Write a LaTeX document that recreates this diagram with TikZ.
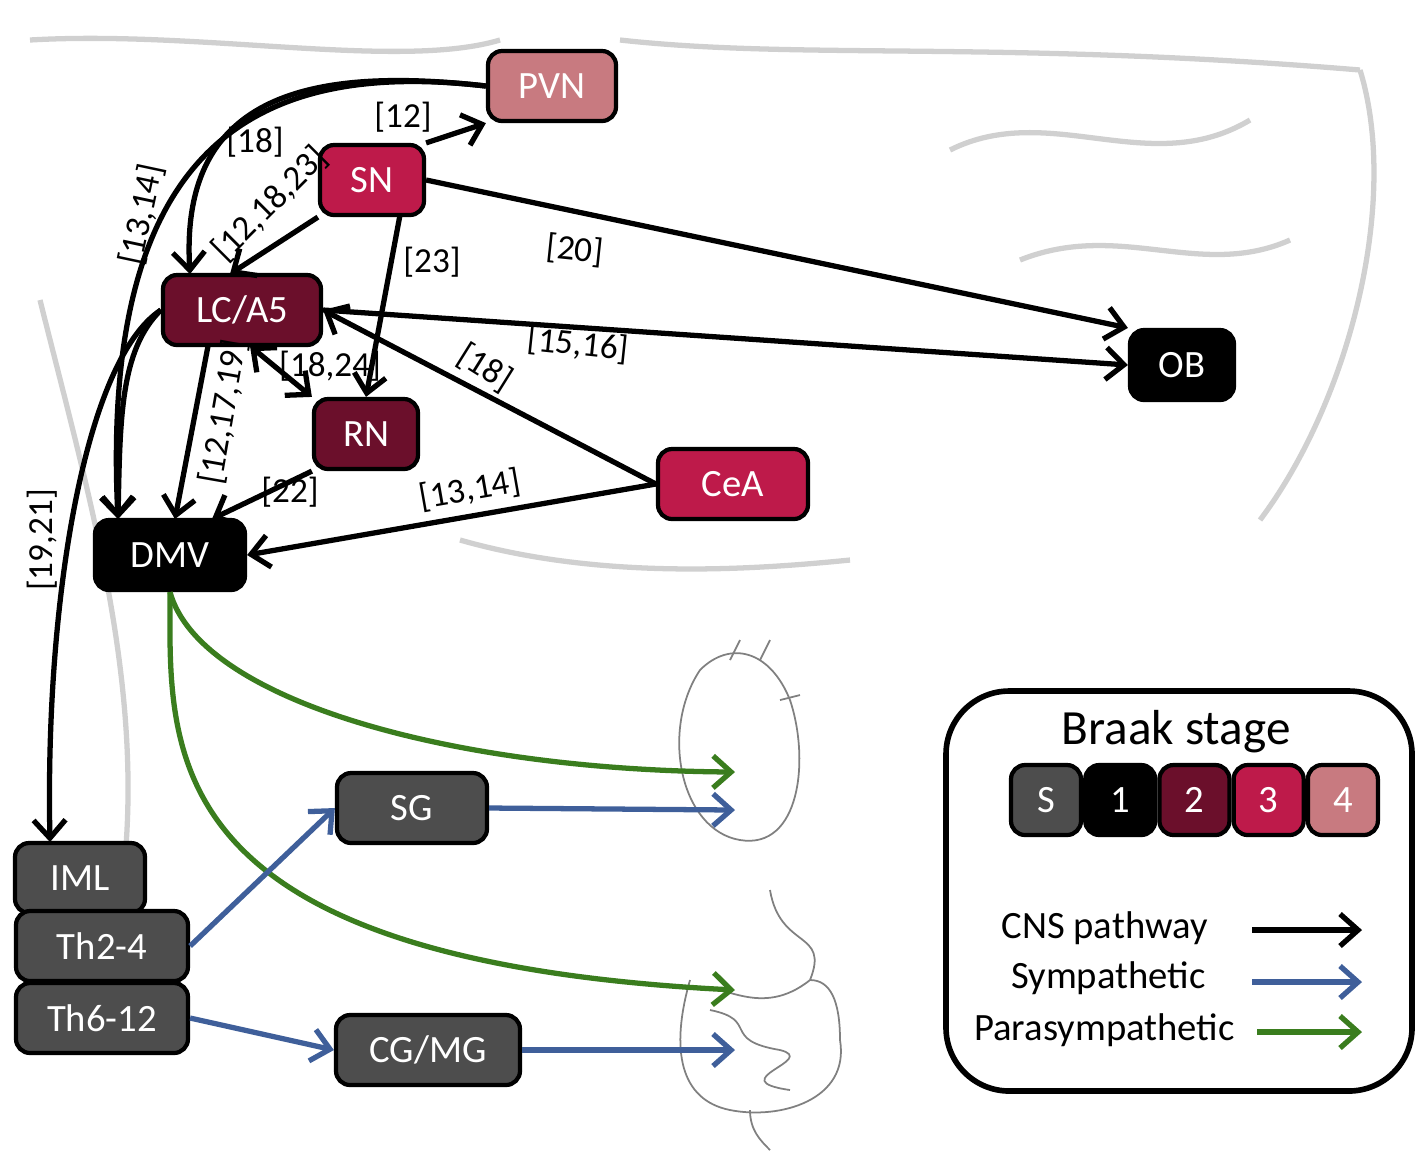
\documentclass[tikz,border=0pt]{standalone}
\usepackage{fontspec}
\setmainfont{Carlito}
\usetikzlibrary{arrows.meta, positioning, shapes}
\definecolor{stgS}{HTML}{4D4D4D}
\definecolor{stgA}{HTML}{000000}
\definecolor{stgB}{HTML}{6B0F2B}
\definecolor{stgC}{HTML}{BE1A4A}
\definecolor{stgD}{HTML}{C87A80}
\definecolor{symp}{HTML}{3F5F9A}
\definecolor{para}{HTML}{3A7D1E}
\definecolor{sketch}{HTML}{D0D0D0}
\tikzset{
  stage/.style={rectangle,rounded corners=4pt,draw=black,line width=1.2pt,text=white,
    minimum height=0.7cm,inner sep=0pt,font=\fontsize{11}{13}\selectfont},
  cns/.style={draw=black,line width=1.5pt,-{Straight Barb[length=1.8mm,width=3.2mm]}},
  sym/.style={draw=symp,line width=1.5pt,-{Straight Barb[length=1.8mm,width=3.2mm]}},
  par/.style={draw=para,line width=1.5pt,-{Straight Barb[length=1.8mm,width=3.2mm]}},
  ref/.style={font=\fontsize{10}{12}\selectfont,inner sep=1pt},
  leg/.style={anchor=east,font=\fontsize{11}{13}\selectfont},
  organ/.style={draw=black!50,line width=0.5pt},
}

\begin{document}
\begin{tikzpicture}
   \useasboundingbox (0,0) rectangle (14.21,-11.68);
   % background sketch
   \draw[sketch,line width=1.5pt] (0.3,-0.4) .. controls (2,-0.3) and (4,-0.7) .. (5,-0.4);
   \draw[sketch,line width=1.5pt] (6.2,-0.4) .. controls (8,-0.6) and (10,-0.4) .. (13.6,-0.7);
   \draw[sketch,line width=1.5pt] (13.6,-0.7) .. controls (14,-2) and (13.5,-4) .. (12.6,-5.2);
   \draw[sketch,line width=1.5pt] (9.5,-1.5) .. controls (10.5,-1) and (11.5,-1.8) .. (12.5,-1.2);
   \draw[sketch,line width=1.5pt] (10.2,-2.6) .. controls (11.2,-2.2) and (12,-2.8) .. (12.9,-2.4);
   \draw[sketch,line width=1.5pt] (4.6,-5.4) .. controls (6,-5.8) and (7.5,-5.7) .. (8.5,-5.6);
   \draw[sketch,line width=1.5pt] (0.4,-3) .. controls (0.9,-5) and (1.5,-7) .. (1.2,-9);
   % heart
   \draw[organ] (7.0,-6.7) .. controls (6.6,-7.3) and (6.8,-8.3) .. (7.4,-8.4)
     .. controls (8,-8.5) and (8.1,-7.6) .. (7.9,-7.0)
     .. controls (7.7,-6.5) and (7.3,-6.4) .. (7.0,-6.7);
   \draw[organ] (7.3,-6.6) -- (7.4,-6.4) (7.6,-6.6) -- (7.7,-6.4) (7.8,-7.0) -- (8.0,-6.95);
   % gut
   \draw[organ] (7.7,-8.9) .. controls (7.8,-9.5) and (8.3,-9.3) .. (8.1,-9.8)
     .. controls (7.6,-10.2) and (7.2,-9.8) .. (7.0,-9.9);
   \draw[organ] (6.9,-9.8) .. controls (6.7,-10.5) and (6.8,-11) .. (7.3,-11.1)
     .. controls (7.8,-11.2) and (8.5,-11) .. (8.4,-10.4) .. controls (8.4,-10) and (8.3,-9.8) .. (8.1,-9.8);
   \draw[organ] (7.1,-10.1) .. controls (7.6,-10.2) and (7.2,-10.4) .. (7.8,-10.5)
     .. controls (8.2,-10.6) and (7.2,-10.8) .. (7.9,-10.9);
   \draw[organ] (7.5,-11.1) .. controls (7.5,-11.3) and (7.6,-11.4) .. (7.7,-11.5);
   % nodes
   \node[stage,fill=stgD,minimum width=1.28cm] (PVN) at (5.52,-0.86) {PVN};
   \node[stage,fill=stgC,minimum width=1.04cm] (SN) at (3.72,-1.80) {SN};
   \node[stage,fill=stgB,minimum width=1.58cm] (LC) at (2.42,-3.10) {LC/A5};
   \node[stage,fill=stgB,minimum width=1.04cm] (RN) at (3.66,-4.34) {RN};
   \node[stage,fill=stgC,minimum width=1.50cm] (CeA) at (7.33,-4.84) {CeA};
   \node[stage,fill=stgA,minimum width=1.50cm] (DMV) at (1.70,-5.55) {DMV};
   \node[stage,fill=stgA,minimum width=1.04cm] (OB) at (11.82,-3.65) {OB};
   \node[stage,fill=stgS,minimum width=1.30cm] (IML) at (0.80,-8.78) {IML};
   \node[stage,fill=stgS,minimum width=1.72cm] (Th24) at (1.02,-9.46) {Th2-4};
   \node[stage,fill=stgS,minimum width=1.72cm] (Th612) at (1.02,-10.18) {Th6-12};
   \node[stage,fill=stgS,minimum width=1.50cm] (SG) at (4.12,-8.08) {SG};
   \node[stage,fill=stgS,minimum width=1.84cm] (CGMG) at (4.28,-10.50) {CG/MG};
   \coordinate (heart) at (7.35,-7.72);
   \coordinate (heart2) at (7.35,-8.10);
   \coordinate (gut) at (7.35,-9.90);
   \coordinate (gut2) at (7.35,-10.50);
   \coordinate (lcTop) at (1.90,-2.74);
   \coordinate (dmvTop) at (1.18,-5.19);
   % CNS pathways
   \draw[cns] (PVN.west) .. controls (3.0,-0.65) and (1.8,-1.0) .. (lcTop);
   \draw[cns] (PVN.west) .. controls (2.6,-0.6) and (1.0,-1.4) .. (dmvTop);
   \draw[cns] (SN.north east) -- (PVN.south west);
   \draw[cns] (SN.south west) -- (2.30,-2.74);
   \draw[cns] (4.00,-2.15) -- (RN.north);
   \draw[cns] (SN.east) -- (OB.north west);
   \draw[cns] (LC.east) -- (OB.west);
   \draw[cns] (CeA.west) -- (LC.east);
   \draw[cns,{Straight Barb[length=1.8mm,width=3.2mm]}-{Straight Barb[length=1.8mm,width=3.2mm]}] (2.50,-3.46) -- (RN.north west);
   \draw[cns] (2.08,-3.46) -- (1.75,-5.19);
   \draw[cns] (LC.west) .. controls (1.2,-3.5) and (1.2,-4.2) .. (dmvTop);
   \draw[cns] (LC.west) .. controls (0.85,-3.6) and (0.45,-6) .. (0.50,-8.42);
   \draw[cns] (RN.south west) -- (2.12,-5.19);
   \draw[cns] (CeA.west) -- (DMV.east);
   % reference labels
   \node[ref] (r1) at (2.55,-1.42) {[18]};
   \node[ref,rotate=78] (r2) at (1.42,-2.15) {[13,14]};
   \node[ref] (r3) at (4.03,-1.17) {[12]};
   \node[ref,rotate=45] (r4) at (2.70,-2.04) {[12,18,23]};
   \node[ref] (r5) at (4.32,-2.62) {[23]};
   \node[ref,rotate=-6] (r6) at (5.75,-2.50) {[20]};
   \node[ref,rotate=-6] (r7) at (5.78,-3.45) {[15,16]};
   \node[ref,rotate=-32] (r8) at (4.85,-3.68) {[18]};
   \node[ref] (r9) at (3.30,-3.66) {[18,24]};
   \node[ref,rotate=80] (r10) at (2.24,-4.12) {[12,17,19]};
   \node[ref,rotate=90] (r11) at (0.42,-5.40) {[19,21]};
   \node[ref] (r12) at (2.90,-4.92) {[22]};
   \node[ref,rotate=10] (r13) at (4.70,-4.90) {[13,14]};
   % parasympathetic
   \draw[par] (DMV.south) .. controls (2.0,-7) and (4.5,-7.7) .. (heart);
   \draw[par] (DMV.south) .. controls (1.7,-7.5) and (1.5,-9.6) .. (gut);
   % sympathetic
   \draw[sym] (Th24.east) -- (SG.west);
   \draw[sym] (SG.east) -- (heart2);
   \draw[sym] (Th612.east) -- (CGMG.west);
   \draw[sym] (CGMG.east) -- (gut2);
   % legend
   \node[draw=black,line width=1.6pt,rounded corners=18pt,minimum width=4.66cm,minimum height=4.0cm] (leg) at (11.79,-8.91) {};
   \node[font=\fontsize{14}{16}\selectfont] (title) at (11.76,-7.32) {Braak stage};
   \node[stage,fill=stgS,minimum size=0.7cm] (s0) at (10.46,-8.00) {S};
   \node[stage,fill=stgA,minimum size=0.7cm,right=0pt of s0] (s1) {1};
   \node[stage,fill=stgB,minimum size=0.7cm,right=0pt of s1] (s2) {2};
   \node[stage,fill=stgC,minimum size=0.7cm,right=0pt of s2] (s3) {3};
   \node[stage,fill=stgD,minimum size=0.7cm,right=0pt of s3] (s4) {4};
   \node[leg] (lcns) at (12.20,-9.28) {CNS pathway};
   \node[leg] (lsym) at (12.18,-9.78) {Sympathetic};
   \node[leg] (lpar) at (12.47,-10.30) {Parasympathetic};
   \coordinate (ec) at (13.62,-9.30);
   \coordinate (es) at (13.62,-9.82);
   \coordinate (ep) at (13.62,-10.32);
   \draw[cns] (12.52,-9.30) -- (ec);
   \draw[sym] (12.52,-9.82) -- (es);
   \draw[par] (12.57,-10.32) -- (ep);
\end{tikzpicture}
\end{document}
